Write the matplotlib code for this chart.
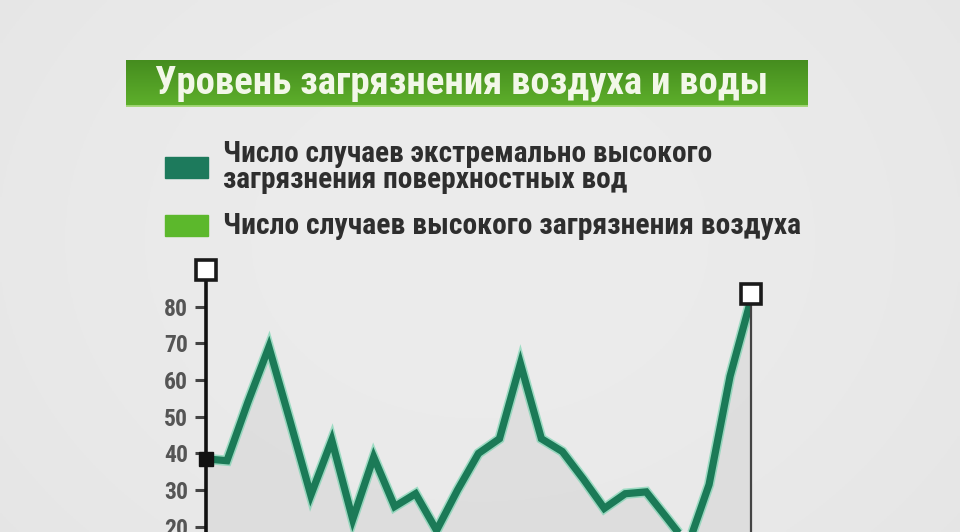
import matplotlib
matplotlib.use("Agg")
import matplotlib.pyplot as plt
import numpy as np
from matplotlib import font_manager as fm
from matplotlib.patches import Rectangle
from matplotlib.transforms import offset_copy

# ---------------- data ----------------
title = "Уровень загрязнения воздуха и воды"
legend_labels = [
    "Число случаев экстремально высокого\nзагрязнения поверхностных вод",
    "Число случаев высокого загрязнения воздуха",
]
legend_colors = ["#1d7a5c", "#5cb82c"]
periods = list(range(27))  # unlabeled time points
water_cases = [38.5, 38, 54, 69, 49, 28.6, 43.6, 22, 39, 25.5, 29, 19, 30, 40,
               44, 64.5, 44, 40.5, 33, 25, 29, 29.5, 22.3, 15, 31.5, 61, 82]
yticks = [20, 30, 40, 50, 60, 70, 80]
ytick_labels = ["20", "30", "40", "50", "60", "70", "80"]

# ---------------- fonts ----------------
names = {f.name for f in fm.fontManager.ttflist}
cond = None
for cand in ["Liberation Sans Narrow", "Roboto Condensed", "Open Sans Condensed"]:
    if cand in names:
        cond = cand
        break
if cond is None:
    cond = "DejaVu Sans"
    stretch = "condensed"
else:
    stretch = "normal"
FONT = dict(family=[cond, "DejaVu Sans"], weight="bold", stretch=stretch)

W, H = 960, 532
fig = plt.figure(figsize=(W / 100, H / 100), dpi=100)
fig.patch.set_facecolor("#e6e6e6")

# background gradient
bg = fig.add_axes([0, 0, 1, 1], zorder=-10)
yy, xx = np.mgrid[0:1:200j, 0:1:300j]
g = 0.925 - 0.03 * ((xx - 0.5) ** 2 * 2.0 + (yy - 0.45) ** 2)
bg.imshow(np.dstack([g, g, g]), aspect="auto", extent=[0, 1, 0, 1])
bg.axis("off")

def px_rect(x0, y0, x1, y1):
    return [x0 / W, 1 - y1 / H, (x1 - x0) / W, (y1 - y0) / H]

# title bar
tb = fig.add_axes(px_rect(126, 60, 808, 107), zorder=2)
grad = np.linspace(0, 1, 100)[:, None]
top = np.array([0.27, 0.55, 0.12])
bot = np.array([0.37, 0.69, 0.17])
img = top[None, None, :] * (1 - grad[:, :, None]) + bot[None, None, :] * grad[:, :, None]
img = np.repeat(img, 10, axis=1)
tb.imshow(img, aspect="auto", extent=[0, 1, 0, 1])
tb.axhline(0.02, color="#a5d77a", lw=2)
tb.axis("off")

def fit(t, target_px):
    fig.canvas.draw()
    renderer = fig.canvas.get_renderer()
    w = t.get_window_extent(renderer).width
    t.set_fontsize(t.get_fontsize() * target_px / w)

tt = fig.text(155 / W, 1 - 84 / H, title, color="#f2f7e8", ha="left", va="center",
              fontsize=26, **FONT, zorder=5)
fit(tt, 615)

# legend
fig.patches.append(Rectangle((165 / W, 1 - 178 / H), 43 / W, 21 / H,
                             transform=fig.transFigure, color=legend_colors[0], zorder=3))
fig.patches.append(Rectangle((165 / W, 1 - 236 / H), 43 / W, 21 / H,
                             transform=fig.transFigure, color=legend_colors[1], zorder=3))
l1 = fig.text(223 / W, 1 - 167 / H, legend_labels[0], color="#2e2e2e", ha="left",
              va="center", fontsize=20, linespacing=0.95, **FONT)
fit(l1, 488)
l2 = fig.text(223 / W, 1 - 226 / H, legend_labels[1], color="#2e2e2e", ha="left",
              va="center", fontsize=20, **FONT)
fit(l2, 576)

# ---------------- main chart ----------------
px_per_unit = 3.667
y80 = 306.7
ybot = 80 - (H - y80) / px_per_unit
ytop = 80 + (y80 - 250) / px_per_unit
ax = fig.add_axes(px_rect(206, 250, 751, H), zorder=1)
ax.set_facecolor("none")
ax.set_xlim(periods[0], periods[-1])
ax.set_ylim(ybot, ytop)
for s in ax.spines.values():
    s.set_visible(False)

ax.fill_between(periods, water_cases, ybot, color="#d6d6d6", alpha=0.6, lw=0)
ax.plot(periods, water_cases, color="#5fd0a4", lw=7.5, alpha=0.55,
        solid_joinstyle="miter", solid_capstyle="butt")
ax.plot(periods, water_cases, color="#1b7a57", lw=5.2,
        solid_joinstyle="miter", solid_capstyle="butt")

# axis lines
ax.plot([periods[0], periods[0]], [ybot, 90], color="#111111", lw=2.6, clip_on=False, zorder=4)
ax.plot([periods[-1], periods[-1]], [ybot, water_cases[-1]], color="#444444", lw=1.6,
        clip_on=False, zorder=4)
ax.plot([periods[0]], [90], marker="s", ms=15, mfc="white", mec="#1a1a1a", mew=2.6,
        clip_on=False, zorder=6)
tr = offset_copy(ax.transData, fig=fig, y=4, units="points")
ax.plot([periods[-1]], [water_cases[-1]], marker="s", ms=15, mfc="white", mec="#1a1a1a",
        mew=2.6, clip_on=False, zorder=6, transform=tr)
ax.plot([periods[0]], [water_cases[0]], marker="s", ms=10, mfc="#111111", mec="#111111",
        clip_on=False, zorder=6)

ax.set_xticks([])
ax.set_yticks(yticks)
ax.set_yticklabels(ytick_labels)
ax.tick_params(axis="y", direction="out", length=8, width=2.2, color="#444444",
               pad=5, labelcolor="#555555", labelsize=17)
for lab in ax.get_yticklabels():
    lab.set_family([cond, "DejaVu Sans"])
    lab.set_weight("bold")
    lab.set_stretch(stretch)

fig.savefig("out.png", dpi=100, facecolor=fig.get_facecolor())
